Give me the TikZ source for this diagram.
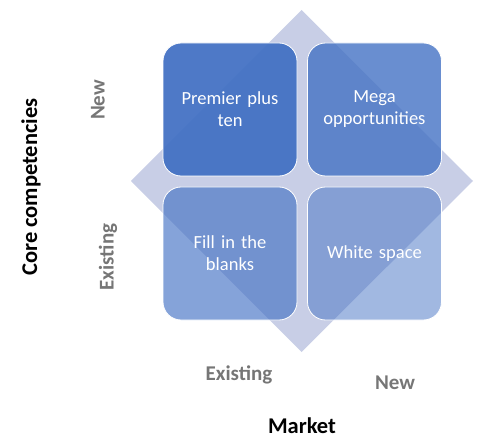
\documentclass[tikz,border=0pt]{standalone}
\usepackage{fontspec}
\setmainfont{Carlito}
\definecolor{boxblue}{HTML}{4472C4}
\definecolor{diamondgray}{HTML}{C8CEE6}
\definecolor{labelgray}{HTML}{767676}
\begin{document}
\begin{tikzpicture}[x=1pt,y=-1pt,
  box/.style={draw=white, line width=0.8pt, fill=boxblue, rounded corners=18pt,
    minimum width=134pt, minimum height=133pt, text width=120pt, align=center,
    text=white, text opacity=1, font=\fontsize{18.5}{22}\selectfont},
  axis/.style={color=labelgray, font=\fontsize{21}{24}\selectfont\bfseries},
  title/.style={color=black, font=\fontsize{22.5}{26}\selectfont\bfseries}]

\useasboundingbox (0,0) rectangle (483,444);

% Background diamond
\fill[diamondgray] (301.5,10) -- (473,181) -- (301.5,352) -- (131,181) -- cycle;

% Quadrants
\node[box, fill opacity=0.95] (premier) at (230,109.5) {Premier plus\\ten};
\node[box, fill opacity=0.8] (mega) at (374.5,109.5) {Mega\\opportunities};
\node[box, fill opacity=0.65] (fill) at (230,253.5) {Fill in the\\blanks};
\node[box, fill opacity=0.5] (white) at (374.5,253.5) {White space};

% Vertical axis
\node[title, rotate=90] (core) at (31,187) {Core competencies};
\node[axis, rotate=90] (vnew) at (98,100) {New};
\node[axis, rotate=90] (vexist) at (108,257) {Existing};

% Horizontal axis
\node[axis] (hexist) at (239,375) {Existing};
\node[axis] (hnew) at (395,383) {New};
\node[title] (market) at (302,426) {Market};

\end{tikzpicture}
\end{document}
